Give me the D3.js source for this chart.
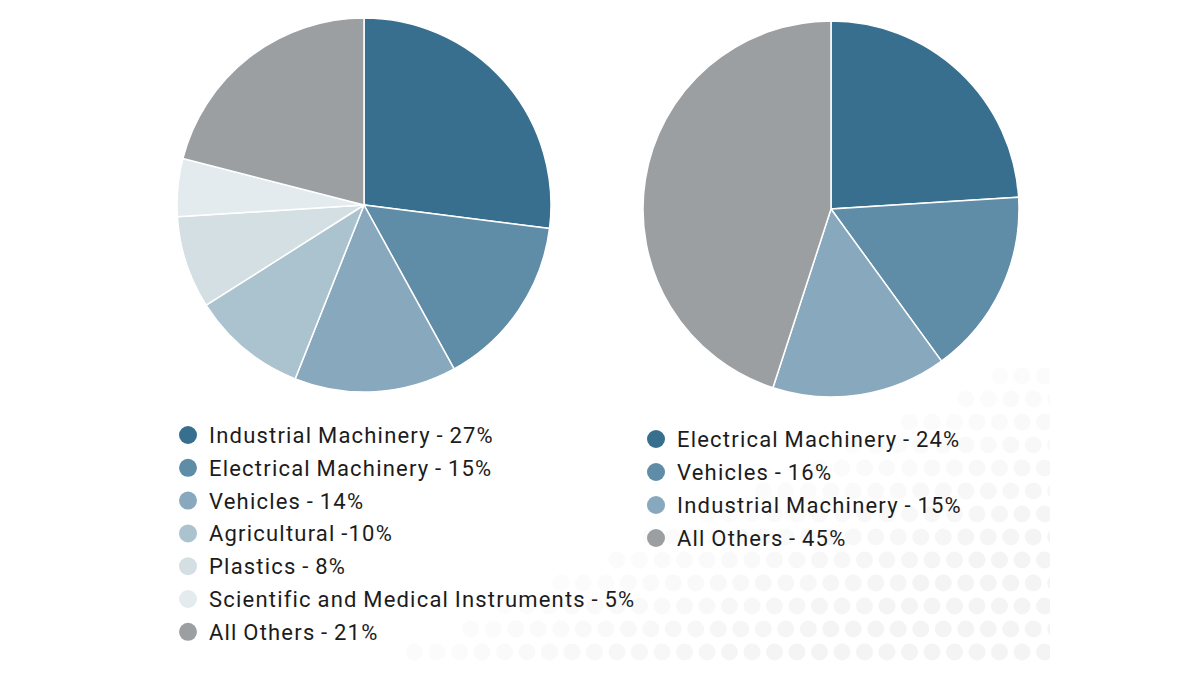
<!DOCTYPE html>
<html>
<head>
<meta charset="utf-8">
<script src="https://cdn.jsdelivr.net/npm/d3@7"></script>
<style>
  body { margin: 0; background: #fff; }
  svg { display: block; }
</style>
</head>
<body>
<script>
// sizes
var width = 1200;
var height = 676;

// DATA
var leftLabels = ["Industrial Machinery - 27%", "Electrical Machinery - 15%", "Vehicles - 14%", "Agricultural -10%",
  "Plastics - 8%", "Scientific and Medical Instruments - 5%", "All Others - 21%"];
var leftValues = [27, 15, 14, 10, 8, 5, 21];
var leftColors = ["#386f8f", "#5f8ca6", "#88a8bd", "#abc3cf", "#d3dfe2", "#e4ebee", "#9b9fa2"];

var rightLabels = ["Electrical Machinery - 24%", "Vehicles - 16%", "Industrial Machinery - 15%", "All Others - 45%"];
var rightValues = [24, 16, 15, 45];
var rightColors = ["#386f8f", "#5f8ca6", "#88a8bd", "#9b9fa2"];

var svg = d3.select("body").append("svg")
  .attr("width", width)
  .attr("height", height);

// faint dot pattern, lower right (decoration)
var dots = svg.append("g").attr("id", "dots");
var rows = d3.range(376, 660, 23);
rows.forEach(function (y, r) {
  var off = (r % 2) * 11.25;
  d3.range(392 + off, 1060, 22.5).forEach(function (x) {
    // fade toward the diagonal running from lower-left to upper-right
    var d = (y - 653) + (x - 400) * (278 / 600);
    var a = Math.max(0, Math.min(1, d / 180));
    if (a <= 0) return;
    dots.append("circle")
      .attr("cx", x).attr("cy", y).attr("r", 8.5)
      .attr("fill", "#f4f4f4")
      .attr("opacity", 0.3 + 0.7 * a);
  });
});
svg.append("defs").append("clipPath").attr("id", "dotclip")
  .append("rect").attr("x", 0).attr("y", 0).attr("width", 1050).attr("height", height);
dots.attr("clip-path", "url(#dotclip)");

function drawPie(cx, cy, r, values, colors) {
  var pie = d3.pie().sort(null)(values);
  var arc = d3.arc().innerRadius(0).outerRadius(r);
  svg.append("g")
    .attr("transform", "translate(" + cx + "," + cy + ")")
    .selectAll("path")
    .data(pie)
    .enter()
    .append("path")
    .attr("d", arc)
    .attr("fill", function (d, i) { return colors[i]; })
    .attr("stroke", "#fff")
    .attr("stroke-width", 1.5);
}

function drawLegend(x, y, step, labels, colors) {
  var g = svg.append("g").attr("transform", "translate(" + x + "," + y + ")");
  var rowsG = g.selectAll("g").data(labels).enter().append("g")
    .attr("transform", function (d, i) { return "translate(0," + (i * step) + ")"; });
  rowsG.append("circle")
    .attr("cx", 0).attr("cy", 0).attr("r", 9)
    .attr("fill", function (d, i) { return colors[i]; });
  rowsG.append("text")
    .attr("x", 21).attr("y", 8)
    .attr("font-family", "Roboto, 'Open Sans', sans-serif")
    .attr("font-size", 22)
    .attr("letter-spacing", 1.2)
    .attr("word-spacing", -1)
    .attr("fill", "#1c1c1c")
    .text(function (d) { return d; });
}

drawPie(364, 205, 187, leftValues, leftColors);
drawPie(831, 209, 188, rightValues, rightColors);

drawLegend(188, 435, 32.8, leftLabels, leftColors);
drawLegend(656, 439, 33, rightLabels, rightColors);
</script>
</body>
</html>
